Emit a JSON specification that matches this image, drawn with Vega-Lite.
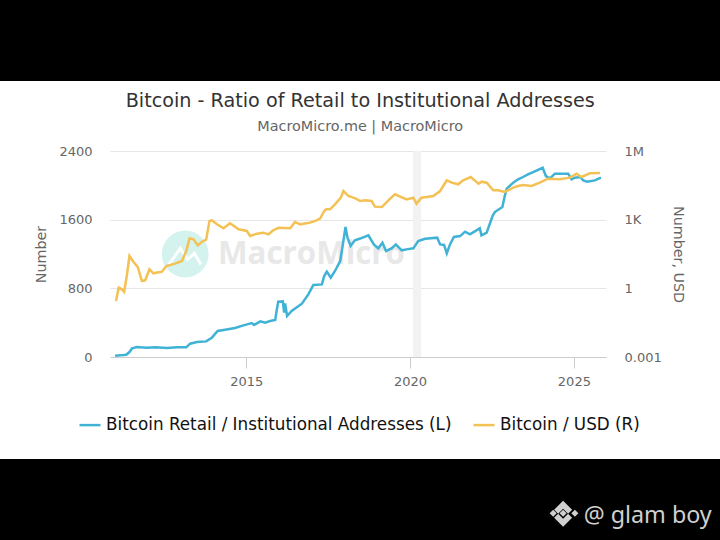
{
  "$schema": "https://vega.github.io/schema/vega-lite/v6.json",
  "width": 496,
  "height": 206,
  "autosize": {"type": "none"},
  "padding": {"left": 110, "right": 114, "top": 151, "bottom": 183},
  "background": "#ffffff",
  "view": {"stroke": null},
  "datasets": {
    "bands": [
      {"from": "2000-01-01", "to": "2035-01-01", "low": 3216, "high": 9000},
      {"from": "2000-01-01", "to": "2035-01-01", "low": -9000, "high": -1188}
    ],
    "recession": [{"from": "2020-02-05", "to": "2020-05-05"}],
    "heading": [{"date": "2018-06-25", "v": 2982, "label": "Bitcoin - Ratio of Retail to Institutional Addresses"}],
    "source": [{"date": "2018-06-25", "v": 2680, "label": "MacroMicro.me | MacroMicro"}],
    "logoCircle": [{"date": "2013-02-20", "v": 1200}],
    "logoPeak": [
      {"date": "2012-08-18", "v": 1072},
      {"date": "2012-12-28", "v": 1266},
      {"date": "2013-03-18", "v": 1138},
      {"date": "2013-06-03", "v": 1208},
      {"date": "2013-08-14", "v": 1079}
    ],
    "logoText": [{"date": "2014-02-22", "v": 1190, "label": "MacroMicro"}],
    "credit": [{"date": "2025-04-20", "v": -1850, "label": "@ glam boy"}],
    "creditDots": [
      {"date": "2024-05-15", "v": -1821},
      {"date": "2024-09-03", "v": -1821},
      {"date": "2025-01-12", "v": -1821}
    ],
    "creditTop": [{"date": "2024-09-03", "v": -1779}],
    "creditBottom": [{"date": "2024-09-03", "v": -1873}],
    "retail": [
      {"date": "2011-01-01", "v": 16}, {"date": "2011-02-28", "v": 19}, {"date": "2011-05-04", "v": 27},
      {"date": "2011-06-10", "v": 58}, {"date": "2011-07-09", "v": 100}, {"date": "2011-09-02", "v": 116},
      {"date": "2011-12-20", "v": 109}, {"date": "2012-03-25", "v": 113}, {"date": "2012-08-01", "v": 105},
      {"date": "2012-11-21", "v": 113}, {"date": "2013-03-04", "v": 113}, {"date": "2013-04-16", "v": 155},
      {"date": "2013-07-02", "v": 175}, {"date": "2013-10-12", "v": 182}, {"date": "2013-12-14", "v": 225},
      {"date": "2014-02-17", "v": 303}, {"date": "2014-05-12", "v": 318}, {"date": "2014-08-29", "v": 338},
      {"date": "2014-12-02", "v": 369}, {"date": "2015-03-04", "v": 396}, {"date": "2015-03-30", "v": 373},
      {"date": "2015-06-08", "v": 415}, {"date": "2015-08-01", "v": 400}, {"date": "2015-09-24", "v": 419},
      {"date": "2015-11-21", "v": 431}, {"date": "2015-12-06", "v": 536}, {"date": "2015-12-24", "v": 645},
      {"date": "2016-02-14", "v": 648}, {"date": "2016-02-28", "v": 516}, {"date": "2016-03-10", "v": 625},
      {"date": "2016-04-01", "v": 478}, {"date": "2016-05-22", "v": 536}, {"date": "2016-09-13", "v": 621},
      {"date": "2016-11-24", "v": 730}, {"date": "2017-01-19", "v": 839}, {"date": "2017-04-24", "v": 846},
      {"date": "2017-05-20", "v": 943}, {"date": "2017-06-18", "v": 994}, {"date": "2017-08-01", "v": 924},
      {"date": "2017-09-17", "v": 1002}, {"date": "2017-11-14", "v": 1118}, {"date": "2017-12-14", "v": 1312},
      {"date": "2018-01-12", "v": 1514}, {"date": "2018-02-03", "v": 1390}, {"date": "2018-03-10", "v": 1293},
      {"date": "2018-04-27", "v": 1359}, {"date": "2018-06-25", "v": 1380}, {"date": "2018-09-24", "v": 1417},
      {"date": "2018-11-24", "v": 1312}, {"date": "2019-01-12", "v": 1266}, {"date": "2019-02-28", "v": 1332},
      {"date": "2019-04-09", "v": 1235}, {"date": "2019-06-10", "v": 1266}, {"date": "2019-07-27", "v": 1312},
      {"date": "2019-10-01", "v": 1243}, {"date": "2019-11-24", "v": 1254}, {"date": "2020-02-07", "v": 1266},
      {"date": "2020-04-02", "v": 1351}, {"date": "2020-06-18", "v": 1378}, {"date": "2020-10-30", "v": 1390},
      {"date": "2020-12-02", "v": 1312}, {"date": "2021-01-15", "v": 1305}, {"date": "2021-02-14", "v": 1208},
      {"date": "2021-03-22", "v": 1312}, {"date": "2021-05-05", "v": 1398}, {"date": "2021-07-13", "v": 1409},
      {"date": "2021-09-06", "v": 1460}, {"date": "2021-10-31", "v": 1429}, {"date": "2022-02-17", "v": 1499},
      {"date": "2022-03-08", "v": 1417}, {"date": "2022-05-05", "v": 1448}, {"date": "2022-07-09", "v": 1643},
      {"date": "2022-08-04", "v": 1689}, {"date": "2022-10-27", "v": 1747}, {"date": "2022-11-22", "v": 1875},
      {"date": "2022-12-14", "v": 1961}, {"date": "2023-02-25", "v": 2031}, {"date": "2023-04-20", "v": 2070},
      {"date": "2023-06-14", "v": 2097}, {"date": "2023-08-08", "v": 2128}, {"date": "2023-10-05", "v": 2155},
      {"date": "2024-01-19", "v": 2205}, {"date": "2024-02-24", "v": 2108}, {"date": "2024-04-09", "v": 2081},
      {"date": "2024-06-03", "v": 2136}, {"date": "2024-10-30", "v": 2136}, {"date": "2024-12-06", "v": 2070},
      {"date": "2025-01-12", "v": 2089}, {"date": "2025-03-11", "v": 2097}, {"date": "2025-04-16", "v": 2058},
      {"date": "2025-05-30", "v": 2042}, {"date": "2025-08-22", "v": 2058}, {"date": "2025-10-30", "v": 2089}
    ],
    "price": [
      {"date": "2011-01-11", "v": 0.28}, {"date": "2011-02-10", "v": 1.07}, {"date": "2011-03-18", "v": 0.9},
      {"date": "2011-04-12", "v": 0.71}, {"date": "2011-05-11", "v": 3.46}, {"date": "2011-06-10", "v": 25.9},
      {"date": "2011-07-24", "v": 14.6}, {"date": "2011-09-10", "v": 8.55}, {"date": "2011-10-27", "v": 2.09},
      {"date": "2011-12-02", "v": 2.24}, {"date": "2012-01-19", "v": 6.76}, {"date": "2012-03-03", "v": 4.52},
      {"date": "2012-06-07", "v": 5.35}, {"date": "2012-07-24", "v": 9.46}, {"date": "2012-10-30", "v": 11.96},
      {"date": "2013-01-15", "v": 15.6}, {"date": "2013-03-04", "v": 42.8}, {"date": "2013-04-10", "v": 153},
      {"date": "2013-05-23", "v": 138}, {"date": "2013-07-10", "v": 75.6}, {"date": "2013-08-26", "v": 109},
      {"date": "2013-10-12", "v": 134}, {"date": "2013-11-18", "v": 875}, {"date": "2013-12-14", "v": 935},
      {"date": "2014-02-10", "v": 625}, {"date": "2014-04-23", "v": 418}, {"date": "2014-07-05", "v": 692},
      {"date": "2014-10-09", "v": 378}, {"date": "2015-01-08", "v": 320}, {"date": "2015-02-14", "v": 193},
      {"date": "2015-05-01", "v": 244}, {"date": "2015-07-12", "v": 270}, {"date": "2015-09-06", "v": 229},
      {"date": "2015-10-30", "v": 342}, {"date": "2015-12-28", "v": 447}, {"date": "2016-05-05", "v": 418},
      {"date": "2016-06-28", "v": 790}, {"date": "2016-08-26", "v": 625}, {"date": "2016-12-14", "v": 740},
      {"date": "2017-02-24", "v": 935}, {"date": "2017-04-06", "v": 1143}, {"date": "2017-05-20", "v": 2393},
      {"date": "2017-06-10", "v": 2825}, {"date": "2017-07-24", "v": 2825}, {"date": "2017-09-17", "v": 4677},
      {"date": "2017-11-21", "v": 9140}, {"date": "2017-12-20", "v": 17860}, {"date": "2018-02-14", "v": 10800},
      {"date": "2018-05-01", "v": 8550}, {"date": "2018-06-25", "v": 6530}, {"date": "2018-08-18", "v": 7000},
      {"date": "2018-10-30", "v": 6530}, {"date": "2018-12-06", "v": 3700}, {"date": "2019-02-21", "v": 3570},
      {"date": "2019-05-05", "v": 7000}, {"date": "2019-07-17", "v": 12800}, {"date": "2019-11-24", "v": 7720},
      {"date": "2020-02-07", "v": 9140}, {"date": "2020-03-14", "v": 5000}, {"date": "2020-05-08", "v": 9140},
      {"date": "2020-09-17", "v": 10800}, {"date": "2020-12-02", "v": 17860}, {"date": "2021-02-14", "v": 52200},
      {"date": "2021-04-10", "v": 41300}, {"date": "2021-06-21", "v": 35000}, {"date": "2021-08-15", "v": 52200},
      {"date": "2021-11-08", "v": 73100}, {"date": "2022-02-03", "v": 37400}, {"date": "2022-03-10", "v": 45700},
      {"date": "2022-05-05", "v": 41300}, {"date": "2022-07-17", "v": 19100}, {"date": "2022-09-09", "v": 19100},
      {"date": "2022-11-22", "v": 16200}, {"date": "2023-02-25", "v": 25000}, {"date": "2023-04-20", "v": 29600},
      {"date": "2023-06-14", "v": 32700}, {"date": "2023-09-17", "v": 29600}, {"date": "2023-12-17", "v": 41300},
      {"date": "2024-03-18", "v": 61800}, {"date": "2024-07-27", "v": 57800}, {"date": "2024-11-18", "v": 68400},
      {"date": "2025-01-30", "v": 102000}, {"date": "2025-03-26", "v": 73100}, {"date": "2025-06-29", "v": 105700},
      {"date": "2025-10-19", "v": 109400}
    ]
  },
  "encoding": {
    "x": {
      "field": "date",
      "type": "temporal",
      "title": null,
      "scale": {"type": "utc", "domain": ["2010-11-05", "2025-12-25"]},
      "axis": {
        "values": ["2015-01-01", "2020-01-01", "2025-01-01"],
        "format": "%Y",
        "grid": false,
        "domainColor": "#cccccc",
        "tickColor": "#cccccc",
        "tickSize": 11,
        "labelColor": "#666666",
        "labelFont": "DejaVu Sans",
        "labelFontSize": 13,
        "labelPadding": 7
      }
    }
  },
  "layer": [
    {
      "data": {"name": "recession"},
      "mark": {"type": "rect", "color": "#f2f2f2"},
      "encoding": {
        "x": {"field": "from", "type": "temporal"},
        "x2": {"field": "to"}
      }
    },
    {
      "layer": [
        {
          "data": {"name": "bands"},
          "mark": {"type": "rect", "color": "#000000"},
          "encoding": {
            "x": {"field": "from", "type": "temporal"},
            "x2": {"field": "to"},
            "y": {"field": "low", "type": "quantitative"},
            "y2": {"field": "high"}
          }
        },
        {
          "data": {"name": "heading"},
          "mark": {"type": "text", "align": "center", "baseline": "middle", "font": "DejaVu Sans", "fontSize": 19.2, "color": "#333333"},
          "encoding": {"y": {"field": "v", "type": "quantitative"}, "text": {"field": "label"}}
        },
        {
          "data": {"name": "source"},
          "mark": {"type": "text", "align": "center", "baseline": "middle", "font": "DejaVu Sans", "fontSize": 14.4, "color": "#666666"},
          "encoding": {"y": {"field": "v", "type": "quantitative"}, "text": {"field": "label"}}
        },
        {
          "data": {"name": "logoCircle"},
          "mark": {"type": "point", "filled": true, "shape": "circle", "size": 2200, "color": "#d5f3ee", "opacity": 1},
          "encoding": {"y": {"field": "v", "type": "quantitative"}}
        },
        {
          "data": {"name": "logoPeak"},
          "mark": {"type": "line", "color": "#ffffff", "strokeWidth": 3},
          "encoding": {"y": {"field": "v", "type": "quantitative"}}
        },
        {
          "data": {"name": "logoText"},
          "mark": {"type": "text", "align": "left", "baseline": "middle", "font": "Open Sans", "fontWeight": "bold", "fontSize": 31.3, "color": "#e8e8e8"},
          "encoding": {"y": {"field": "v", "type": "quantitative"}, "text": {"field": "label"}}
        },
        {
          "data": {"name": "credit"},
          "mark": {"type": "text", "align": "left", "baseline": "middle", "font": "Noto Sans", "fontSize": 23.3, "color": "#d0d0d0"},
          "encoding": {"y": {"field": "v", "type": "quantitative"}, "text": {"field": "label"}}
        },
        {
          "data": {"name": "creditDots"},
          "mark": {"type": "point", "filled": true, "shape": "diamond", "size": 50, "color": "#d0d0d0", "opacity": 1},
          "encoding": {"y": {"field": "v", "type": "quantitative"}}
        },
        {
          "data": {"name": "creditTop"},
          "mark": {"type": "point", "filled": true, "shape": "M0,-1L1,0L0.55,0.45L0,-0.1L-0.55,0.45L-1,0Z", "size": 324, "color": "#d0d0d0", "opacity": 1},
          "encoding": {"y": {"field": "v", "type": "quantitative"}}
        },
        {
          "data": {"name": "creditBottom"},
          "mark": {"type": "point", "filled": true, "shape": "M0,1L1,0L0.55,-0.45L0,0.1L-0.55,-0.45L-1,0Z", "size": 324, "color": "#d0d0d0", "opacity": 1},
          "encoding": {"y": {"field": "v", "type": "quantitative"}}
        },
        {
          "data": {"name": "retail"},
          "transform": [{"calculate": "'Bitcoin Retail / Institutional Addresses (L)'", "as": "series"}],
          "mark": {"type": "line", "strokeWidth": 2.5, "interpolate": "linear"},
          "encoding": {
            "y": {
              "field": "v",
              "type": "quantitative",
              "title": "Number",
              "scale": {"domain": [0, 2400]},
              "axis": {
                "values": [0, 800, 1600, 2400],
                "format": "d",
                "grid": true,
                "gridColor": "#e6e6e6",
                "domain": false,
                "ticks": false,
                "labelColor": "#666666",
                "labelFont": "DejaVu Sans",
                "labelFontSize": 13,
                "labelPadding": 18,
                "titleColor": "#666666",
                "titleFont": "DejaVu Sans",
                "titleFontSize": 14.3,
                "titleFontWeight": "normal",
                "titlePadding": 10
              }
            },
            "color": {
              "field": "series",
              "type": "nominal",
              "title": null,
              "scale": {
                "domain": ["Bitcoin Retail / Institutional Addresses (L)", "Bitcoin / USD (R)"],
                "range": ["#3fb2d6", "#f3c154"]
              },
              "legend": {
                "orient": "none",
                "legendX": -32,
                "legendY": 262,
                "direction": "horizontal",
                "columns": 2,
                "columnPadding": 16,
                "symbolType": "stroke",
                "symbolSize": 440,
                "symbolStrokeWidth": 2.5,
                "labelOffset": 4,
                "labelFont": "DejaVu Sans",
                "labelFontSize": 16.8,
                "labelColor": "#111111",
                "labelLimit": 400
              }
            }
          }
        }
      ]
    },
    {
      "data": {"name": "price"},
      "transform": [{"calculate": "'Bitcoin / USD (R)'", "as": "series"}],
      "mark": {"type": "line", "strokeWidth": 2.5, "interpolate": "linear"},
      "encoding": {
        "y": {
          "field": "v",
          "type": "quantitative",
          "title": "Number, USD",
          "scale": {"type": "log", "domain": [0.001, 1000000]},
          "axis": {
            "orient": "right",
            "values": [0.001, 1, 1000, 1000000],
            "labelExpr": "datum.value >= 1000000 ? '1M' : datum.value >= 1000 ? '1K' : datum.value >= 1 ? '1' : '0.001'",
            "grid": false,
            "domain": false,
            "ticks": false,
            "labelColor": "#666666",
            "labelFont": "DejaVu Sans",
            "labelFontSize": 13,
            "labelPadding": 18,
            "titleColor": "#666666",
            "titleFont": "DejaVu Sans",
            "titleFontSize": 14.3,
            "titleFontWeight": "normal",
            "titlePadding": 9
          }
        },
        "color": {"field": "series", "type": "nominal", "title": null}
      }
    }
  ],
  "resolve": {"scale": {"y": "independent"}}
}
